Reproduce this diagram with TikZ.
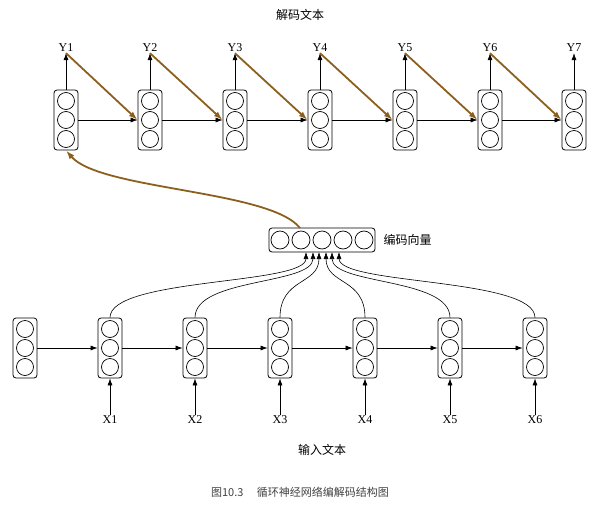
\documentclass[tikz,border=0pt]{standalone}
\usepackage{fontspec}
\setmainfont{Liberation Serif}
\newfontfamily\cjk{Noto Sans CJK SC}
\usetikzlibrary{arrows.meta,calc}
\definecolor{brn}{RGB}{140,95,30}
\begin{document}
\begin{tikzpicture}[x=1pt,y=-1pt,
  cell/.style={draw,rounded corners=3pt,minimum width=24pt,minimum height=60pt,inner sep=0pt,line width=0.8pt},
  vec/.style={draw,rounded corners=3pt,minimum width=106pt,minimum height=24pt,inner sep=0pt,line width=0.8pt},
  lab/.style={font=\fontsize{12}{14}\selectfont,inner sep=1pt},
  ttl/.style={font=\cjk\fontsize{12}{14}\selectfont},
  arr/.style={-{Latex[length=7pt,width=5pt]},line width=0.6pt},
  barr/.style={-{Latex[length=9pt,width=6pt]},line width=1.8pt,draw=brn}]
\useasboundingbox (0,0) rectangle (600,509);
\foreach \i/\x in {1/66,2/150,3/235,4/320,5/405,6/490,7/574}{
  \node[cell] (t\i) at (\x,120) {};
  \foreach \dy in {-19,0,19}{\draw[line width=0.7pt] (\x,120+\dy) circle (8.5pt);}
  \node[lab] (y\i) at (\x,48) {Y\i};
  \draw[arr] (t\i.north) -- (y\i.south);
}
\foreach \i/\x in {1/25,2/110,3/195,4/280,5/365,6/450,7/535}{
  \node[cell] (b\i) at (\x,348) {};
  \foreach \dy in {-19,0,19}{\draw[line width=0.7pt] (\x,348+\dy) circle (8.5pt);}
}
\foreach \i/\j in {2/1,3/2,4/3,5/4,6/5,7/6}{
  \node[lab] (x\j) at (b\i.south |- 0,420) {X\j};
  \draw[arr] (x\j.north) -- (b\i.south);
}
\foreach \a/\b in {1/2,2/3,3/4,4/5,5/6,6/7}{
  \draw[arr] (t\a.east) -- (t\b.west);
  \draw[arr] (b\a.east) -- (b\b.west);
}
\foreach \a/\b in {1/2,2/3,3/4,4/5,5/6,6/7}{
  \draw[barr] (y\a.south) -- (t\b.west);
}
\node[vec] (v) at (322,240) {};
\foreach \k in {0,...,4}{\draw[line width=0.7pt] (322-42+21*\k,240) circle (9pt);}
\node[ttl,anchor=west] (vl) at (380,240) {编码向量};
\foreach \i/\tx in {2/306,3/313,4/319,5/326,6/332,7/339}{
  \coordinate (e\i) at (\tx,252);
  \draw[arr] (b\i.north) .. controls ($(b\i.north)+(0,-40)$) and (\tx,285) .. (e\i);
}
\draw[barr] (300,228) .. controls (270,190) and (100,190) .. (t1.south);
\node[ttl] (tt) at (300,15) {解码文本};
\node[ttl] (bt) at (322,450) {输入文本};
\node[font=\cjk\fontsize{11}{13}\selectfont,text=black!75] (cap) at (300,492) {图10.3\quad\ 循环神经网络编解码结构图};
\end{tikzpicture}
\end{document}
